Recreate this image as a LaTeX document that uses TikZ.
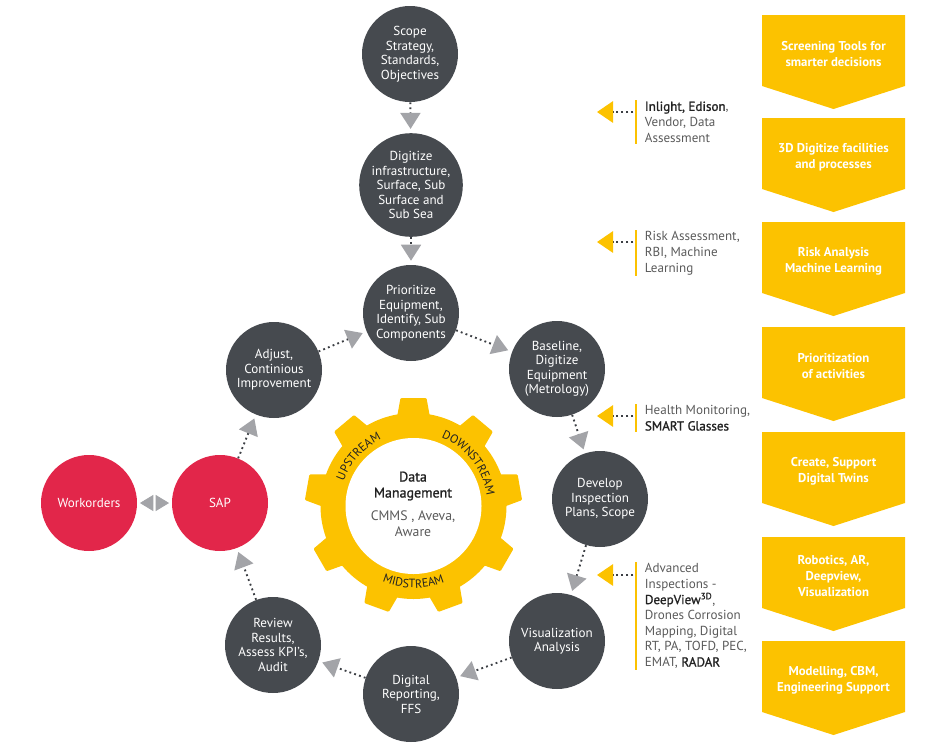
\documentclass[tikz,border=0pt]{standalone}
\usepackage{fontspec}
\setmainfont{PT Sans}
\newfontfamily\semib{PT Sans}[FakeBold=1.2]
\usetikzlibrary{arrows.meta,decorations.text}

\definecolor{stepgray}{HTML}{464A4F}
\definecolor{sapred}{HTML}{E2264A}
\definecolor{gelb}{HTML}{FCC200}
\definecolor{arrowgray}{HTML}{A3A4A8}
\definecolor{dotgray}{HTML}{3C3F44}
\definecolor{anngray}{HTML}{5A5A5A}
\definecolor{inkdark}{HTML}{222222}

\tikzset{
  stepnode/.style={circle, fill=stepgray, text=white, minimum size=72pt, inner sep=0pt,
    align=center, font=\fontsize{9.8}{10.9}\selectfont},
  rednode/.style={stepnode, fill=sapred},
  flow/.style={draw=dotgray, line width=1.4pt, dash pattern=on 1.4pt off 2.4pt, shorten >=3pt,
    -{Triangle[length=12pt, width=15pt, color=arrowgray]}},
  twoway/.style={draw=white, line width=0.5pt, shorten <=2pt, shorten >=2pt,
    {Triangle[length=10pt, width=12pt, color=arrowgray]}-{Triangle[length=10pt, width=12pt, color=arrowgray]}},
  anntext/.style={anchor=north west, align=left, text=anngray, inner xsep=6.5pt, inner ysep=1pt,
    font=\fontsize{9.8}{11.7}\selectfont},
  annbar/.style={draw=gelb, line width=2pt},
  annlink/.style={draw=dotgray, line width=1.4pt, dash pattern=on 1.4pt off 2.4pt, shorten <=2pt,
    -{Triangle[length=12pt, width=16pt, color=gelb]}},
  bannertext/.style={text=white, align=center, font=\fontsize{9.6}{12}\selectfont\bfseries},
}
\newcommand{\gearfont}{\fontsize{9}{9}\selectfont\color{inkdark}}
\newcommand{\strongword}[1]{{\semib\color{inkdark}#1}}

\begin{document}
\begin{tikzpicture}[x=0.75pt, y=-0.75pt, line join=round]
  \useasboundingbox (0,0) rectangle (949,750);

  % ---- the gear ----
  \begin{scope}[shift={(413.5,506)}, y=0.75pt]
    \fill[gelb] (0,0) circle[radius=93];
    \foreach \a in {90,130,...,410}
      \fill[gelb, rotate=\a, rounded corners=0.8pt] (86,-17) -- (108,-13) -- (108,13) -- (86,17) -- cycle;
    \fill[white] (0,0) circle[radius=68];
    % labels round the ring
    \path[decorate, decoration={text along path, text align=center, text={|\gearfont|UPSTREAM}}]
      (175:74) arc[start angle=175, end angle=101, radius=74];
    \path[decorate, decoration={text along path, text align=center, text={|\gearfont|DOWNSTREAM}}]
      (82:74) arc[start angle=82, end angle=-6, radius=74];
    \path[decorate, decoration={text along path, text align=center, text={|\gearfont|MIDSTREAM}}]
      (-125:82) arc[start angle=-125, end angle=-55, radius=82];
  \end{scope}
  \node[align=center, text=inkdark, font=\semib\fontsize{10.5}{12}\selectfont] (dm) at (413,486) {Data\\Management};
  \node[align=center, text=anngray, font=\fontsize{10.3}{12}\selectfont] (dmsub) at (413,524) {CMMS , Aveva,\\Aware};

  % ---- process steps ----
  \node[stepnode] (scope) at (410,54) {Scope\\Strategy,\\Standards,\\Objectives};
  \node[stepnode] (digit) at (411,185) {Digitize\\infrastructure,\\Surface, Sub\\Surface and\\Sub Sea};
  \node[stepnode] (prior) at (411,313) {Prioritize\\Equipment,\\Identify, Sub\\Components};
  \node[stepnode] (base) at (557,369) {Baseline,\\Digitize\\Equipment\\(Metrology)};
  \node[stepnode] (devel) at (600,499) {Develop\\Inspection\\Plans, Scope};
  \node[stepnode] (visu) at (557,641) {Visualization\\Analysis};
  \node[stepnode] (report) at (411,694) {Digital\\Reporting,\\FFS};
  \node[stepnode] (review) at (273,645) {Review\\Results,\\Assess KPI's,\\Audit};
  \node[rednode] (sap) at (220,503) {SAP};
  \node[rednode] (work) at (89,503) {Workorders};
  \node[stepnode] (adjust) at (274,370) {Adjust,\\Continious\\Improvement};

  % ---- connectors ----
  \draw[flow] (scope) -- (digit);
  \draw[flow] (digit) -- (prior);
  \draw[flow] (prior) -- (base);
  \draw[flow] (base) -- (devel);
  \draw[flow] (devel) -- (visu);
  \draw[flow] (visu) -- (report);
  \draw[flow] (report) -- (review);
  \draw[flow] (review) -- (sap);
  \draw[flow] (sap) -- (adjust);
  \draw[flow] (adjust) -- (prior);
  \draw[twoway] (work) -- (sap);

  % ---- tools next to the steps ----
  \node[anntext] (a1) at (636,100) {\strongword{Inlight, Edison},\\Vendor, Data\\Assessment};
  \node[anntext] (a2) at (636,230) {Risk Assessment,\\RBI, Machine\\Learning};
  \node[anntext] (a3) at (636,404) {Health Monitoring,\\\strongword{SMART Glasses}};
  \node[anntext] (a4) at (636,562) {Advanced\\Inspections -\\\strongword{DeepView\textsuperscript{3D}},\\Drones Corrosion\\Mapping, Digital\\RT, PA, TOFD, PEC,\\EMAT, \strongword{RADAR}};
  \coordinate (t1) at (597,112);
  \coordinate (t2) at (597,242);
  \coordinate (t3) at (597,416);
  \coordinate (t4) at (597,575);
  \foreach \n in {1,2,3,4} {
    \draw[annbar] (a\n.north west) -- (a\n.south west);
    \draw[annlink] (a\n.west |- t\n) -- (t\n);
  }

  % ---- banners on the right ----
  \fill[gelb] (762,15) -- (905,15) -- (905,86) -- (833.5,109) -- (762,86) -- cycle;
  \fill[gelb] (762,118) -- (905,118) -- (905,189) -- (833.5,212) -- (762,189) -- cycle;
  \fill[gelb] (762,222) -- (905,222) -- (905,293) -- (833.5,316) -- (762,293) -- cycle;
  \fill[gelb] (762,327) -- (905,327) -- (905,398) -- (833.5,421) -- (762,398) -- cycle;
  \fill[gelb] (762,432) -- (905,432) -- (905,503) -- (833.5,526) -- (762,503) -- cycle;
  \fill[gelb] (762,537) -- (905,537) -- (905,608) -- (833.5,631) -- (762,608) -- cycle;
  \fill[gelb] (762,641) -- (905,641) -- (905,712) -- (833.5,735) -- (762,712) -- cycle;
  \node[bannertext] (b1) at (833.5,54) {Screening Tools for\\smarter decisions};
  \node[bannertext] (b2) at (833.5,157) {3D Digitize facilities\\and processes};
  \node[bannertext] (b3) at (833.5,261) {Risk Analysis\\Machine Learning};
  \node[bannertext] (b4) at (833.5,366) {Prioritization\\of activities};
  \node[bannertext] (b5) at (833.5,471) {Create, Support\\Digital Twins};
  \node[bannertext] (b6) at (833.5,576) {Robotics, AR,\\Deepview,\\Visualization};
  \node[bannertext] (b7) at (833.5,680) {Modelling, CBM,\\Engineering Support};
\end{tikzpicture}
\end{document}
